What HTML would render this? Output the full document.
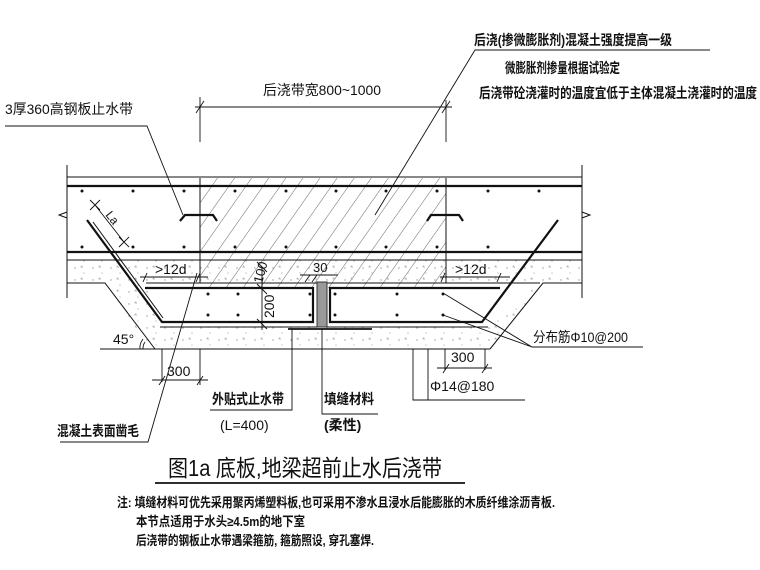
<!DOCTYPE html>
<html><head><meta charset="utf-8"><style>
html,body{margin:0;padding:0;background:#fff}
svg{display:block}
text{font-family:"Liberation Sans","Noto Sans CJK SC",sans-serif;fill:#111}
.b{font-weight:bold}
</style></head><body>
<svg width="760" height="570" viewBox="0 0 760 570" xmlns="http://www.w3.org/2000/svg">
<defs>
<pattern id="h" width="14" height="14" patternUnits="userSpaceOnUse" patternTransform="rotate(35)">
<line x1="0" y1="0" x2="0" y2="14" stroke="#555" stroke-width="0.9"/>
</pattern>
<pattern id="d" width="18" height="12" patternUnits="userSpaceOnUse">
<circle cx="3" cy="4" r="0.7" fill="#999"/><circle cx="12" cy="9" r="0.6" fill="#aaa"/><path d="M8 3 l2 -2 l1 3z" fill="#bbb"/>
</pattern>
</defs>
<g stroke="#111" fill="none" stroke-width="1">
<path d="M200 178 H446 V283 H200 Z" fill="url(#h)" stroke="none"/>
<path d="M67 260 H582 V283 H543 L490 349 H150 L105 283 H67 Z" fill="url(#d)" stroke="none"/>
<path d="M145 283 H540 L488 327 H160 Z" fill="#fff" stroke="none"/>
<path d="M200 283 H446 V288 H200Z" fill="url(#h)" stroke="none"/>
<line x1="67" y1="177" x2="582" y2="177"/>
<line x1="67" y1="186" x2="582" y2="186" stroke-width="2.2"/>
<line x1="67" y1="252" x2="582" y2="252" stroke-width="2.2"/>
<line x1="67" y1="260" x2="582" y2="260"/>
<line x1="67" y1="165" x2="67" y2="298"/>
<line x1="582" y1="165" x2="582" y2="298"/>
<path d="M67 212 l-8 3 l8 3 M582 212 l8 3 l-8 3"/>
<line x1="200" y1="178" x2="200" y2="283"/>
<line x1="446" y1="178" x2="446" y2="283"/>
<path d="M67 283 H105 L155 349"/>
<path d="M582 283 H543 L490 349"/>
<line x1="100" y1="349" x2="490" y2="349"/>
<path d="M160 327 H488"/>
<path d="M146 283 H540"/>
<path d="M87 220 L162 322 H313 V288 H145" stroke-width="2.2"/>
<path d="M558 220 L482 322 H330 V288 H500" stroke-width="2.2"/>
<path d="M93 222 L163 318" stroke-width="1"/>
<rect x="317" y="282" width="10" height="45" fill="#999" stroke="#333"/>
<path d="M180 221 L185 215 H213 L217 221" stroke-width="2.2"/>
<path d="M427 221 L431 215 H459 L463 221" stroke-width="2.2"/>
<line x1="288" y1="329" x2="372" y2="329" stroke-width="1.8"/>
</g>
<g fill="#111">
<circle cx="82" cy="191" r="1.5"/><circle cx="133" cy="191" r="1.5"/><circle cx="184" cy="191" r="1.5"/><circle cx="235" cy="191" r="1.5"/><circle cx="286" cy="191" r="1.5"/><circle cx="336" cy="191" r="1.5"/><circle cx="386" cy="191" r="1.5"/><circle cx="437" cy="191" r="1.5"/><circle cx="488" cy="191" r="1.5"/><circle cx="539" cy="191" r="1.5"/>
<circle cx="82" cy="247" r="1.5"/><circle cx="133" cy="247" r="1.5"/><circle cx="184" cy="247" r="1.5"/><circle cx="235" cy="247" r="1.5"/><circle cx="286" cy="247" r="1.5"/><circle cx="336" cy="247" r="1.5"/><circle cx="386" cy="247" r="1.5"/><circle cx="437" cy="247" r="1.5"/><circle cx="488" cy="247" r="1.5"/>
<circle cx="208" cy="294" r="1.5"/><circle cx="238" cy="294" r="1.5"/><circle cx="310" cy="294" r="1.5"/><circle cx="208" cy="315" r="1.5"/><circle cx="238" cy="315" r="1.5"/><circle cx="310" cy="315" r="1.5"/>
<circle cx="335" cy="294" r="1.5"/><circle cx="397" cy="294" r="1.5"/><circle cx="443" cy="294" r="1.5"/><circle cx="335" cy="315" r="1.5"/><circle cx="397" cy="315" r="1.5"/><circle cx="443" cy="315" r="1.5"/>
</g>
<g stroke="#111" fill="none" stroke-width="0.9">
<line x1="195" y1="107" x2="452" y2="107"/>
<line x1="200" y1="97" x2="200" y2="142"/><line x1="446" y1="100" x2="446" y2="142"/>
<path d="M196 113 l8 -12 M442 113 l8 -12"/>
<path d="M5 126 H147 L183 215"/>
<path d="M710 50 H475 L375 215"/>
<path d="M95 205 L124 242 M90 200 l10 10 M100 200 l-10 10 M119 237 l10 10 M129 237 l-10 10"/>
<path d="M140 277 H208 M143 282 l4 -9 M196 282 l4 -9"/>
<path d="M440 277 H510 M441 282 l4 -9 M497 282 l4 -9"/>
<path d="M262 268 V330 M257 262 l10 10 M257 284 l10 10 M257 319 l10 10"/>
<path d="M300 275 H338 M305 282 l5 -7 M312 282 l5 -7"/>
<path d="M140 349 a14 14 0 0 1 3 -10 M143 349 a11 11 0 0 1 2 -7"/>
<path d="M162 349 V382 M200 349 V385 M152 380 H208 M159 385 l6 -9 M197 385 l6 -9"/>
<path d="M197 273 L148 442 H60"/>
<path d="M292 329 V410 H210"/>
<path d="M322 329 V414 H378"/>
<path d="M445 349 V370 M485 349 V370 M437 368 H492 M443 373 l6 -9 M482 373 l6 -9"/>
<path d="M413 349 V400 H525 M428 349 V400"/>
<path d="M443 293 L532 347 H643 M443 315 L532 347"/>
<line x1="155" y1="483" x2="465" y2="483" stroke-width="1.8"/>
</g>
<g font-size="13">
<text x="5" y="114" font-size="14" textLength="128" lengthAdjust="spacingAndGlyphs">3厚360高钢板止水带</text>
<text x="263" y="95" font-size="14" textLength="118" lengthAdjust="spacingAndGlyphs">后浇带宽800~1000</text>
<text x="474" y="45" font-size="14" textLength="198" lengthAdjust="spacingAndGlyphs" class="b">后浇(掺微膨胀剂)混凝土强度提高一级</text>
<text x="505" y="73" font-size="14" textLength="115" lengthAdjust="spacingAndGlyphs" class="b">微膨胀剂掺量根据试验定</text>
<text x="479" y="98" font-size="14" textLength="278" lengthAdjust="spacingAndGlyphs" class="b">后浇带砼浇灌时的温度宜低于主体混凝土浇灌时的温度</text>
<text x="105" y="215" font-size="12" transform="rotate(52 105 215)">La</text>
<text x="155" y="274" font-size="14">&gt;12d</text>
<text x="455" y="274" font-size="14">&gt;12d</text>
<text x="274" y="318" font-size="14" transform="rotate(-90 274 318)">200</text>
<text x="262" y="284" font-size="13" transform="rotate(-75 262 284)">100</text>
<text x="313" y="272" font-size="13">30</text>
<text x="113" y="344" font-size="14">45°</text>
<text x="167" y="376" font-size="14">300</text>
<text x="451" y="362" font-size="14">300</text>
<text x="430" y="391" font-size="14">Φ14@180</text>
<text x="533" y="342" font-size="14" textLength="95" lengthAdjust="spacingAndGlyphs">分布筋Φ10@200</text>
<text x="212" y="404" font-size="14" class="b" textLength="72" lengthAdjust="spacingAndGlyphs">外贴式止水带</text>
<text x="220" y="430" font-size="14">(L=400)</text>
<text x="324" y="404" font-size="14" class="b" textLength="50" lengthAdjust="spacingAndGlyphs">填缝材料</text>
<text x="324" y="430" font-size="14" class="b">(柔性)</text>
<text x="57" y="436" font-size="14" class="b" textLength="82" lengthAdjust="spacingAndGlyphs">混凝土表面凿毛</text>
<text x="168" y="476" font-size="23" textLength="274" lengthAdjust="spacingAndGlyphs">图1a 底板,地梁超前止水后浇带</text>
<text x="117" y="507" font-size="13" class="b" textLength="438" lengthAdjust="spacingAndGlyphs">注: 填缝材料可优先采用聚丙烯塑料板,也可采用不渗水且浸水后能膨胀的木质纤维涂沥青板.</text>
<text x="136" y="526" font-size="13" class="b" textLength="169" lengthAdjust="spacingAndGlyphs">本节点适用于水头≥4.5m的地下室</text>
<text x="136" y="545" font-size="13" class="b" textLength="238" lengthAdjust="spacingAndGlyphs">后浇带的钢板止水带遇梁箍筋, 箍筋照设, 穿孔塞焊.</text>
</g>
</svg>
</body></html>
